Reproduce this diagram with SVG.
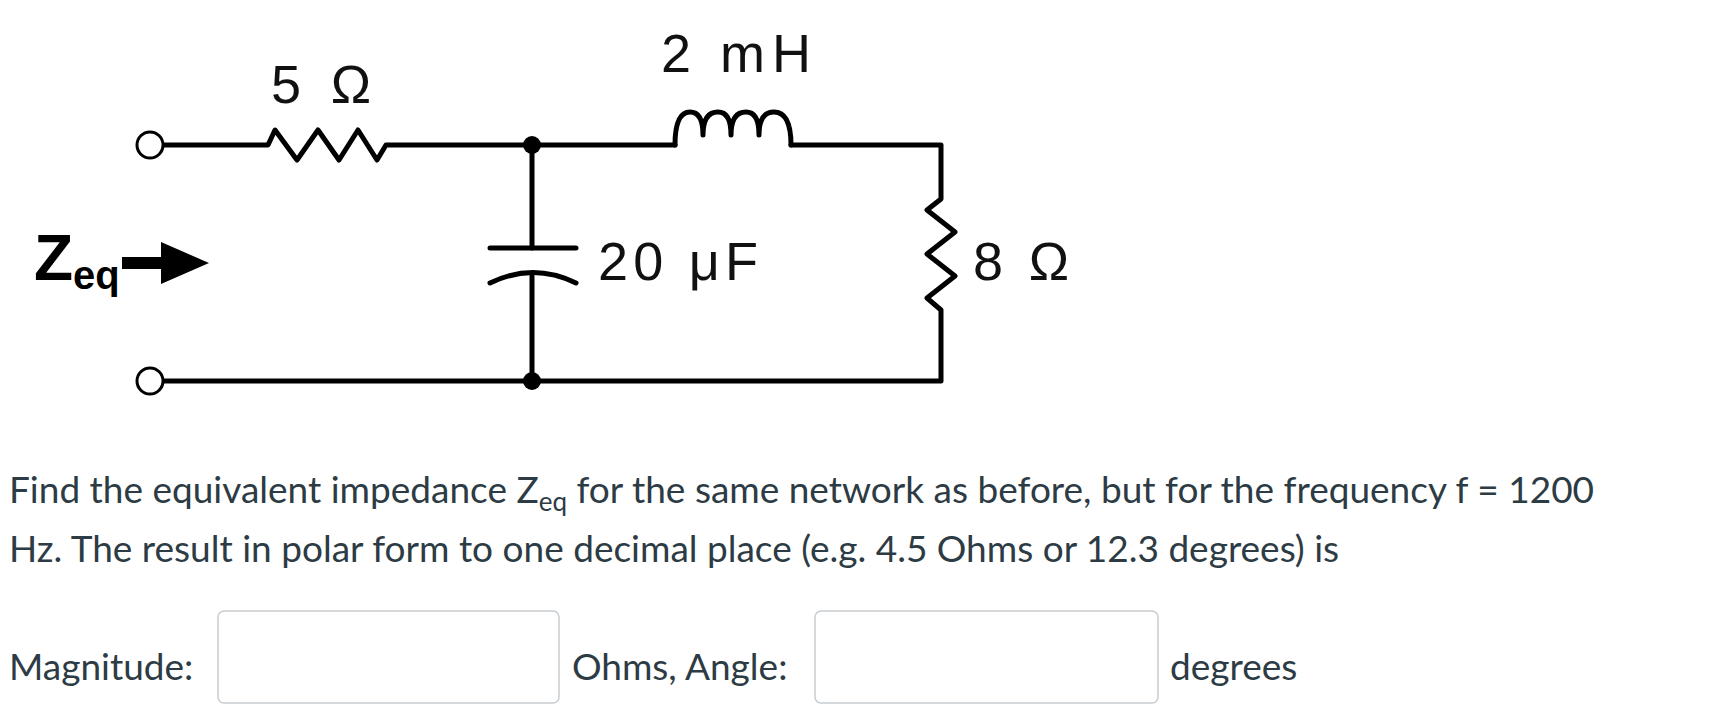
<svg xmlns="http://www.w3.org/2000/svg" width="1735" height="720" viewBox="0 0 1735 720">
<style>
.w{fill:none;stroke:#000;stroke-width:5;stroke-linecap:round;stroke-linejoin:round}
.lb{font-family:"Liberation Sans Narrow","Liberation Sans",sans-serif;font-size:54px;fill:#111}
.t{font-family:Lato,"Liberation Sans",sans-serif;font-size:37px;fill:#2d3b45}
.box{fill:#fff;stroke:#c7cdd1;stroke-width:1.5}
</style>
<rect width="1735" height="720" fill="#fff"/>
<g id="connectors">
<path class="w" d="M163 145H268L275 130L297 160L318 130L339 160L358 130L377 160L386 145H675"/>
<path class="w" d="M791 145H941V199L927 210L955 232L927 254L955 276L927 298L941 310V381H532"/>
<path class="w" d="M163 381H532"/>
<path class="w" d="M532 145V248M532 276V381"/>
<path class="w" d="M490 248H576"/>
<path class="w" d="M490 283Q533 262 576 283"/>
<path class="w" d="M675 145Q675 112 690 112Q703 112 703 135Q703 112 718 112Q731 112 731 135Q731 112 746 112Q759 112 759 135Q759 112 774 112Q791 112 791 145"/>
</g>
<g id="terminals">
<circle cx="150" cy="145" r="13" fill="#fff" stroke="#000" stroke-width="3"/>
<circle cx="150" cy="381" r="13" fill="#fff" stroke="#000" stroke-width="3"/>
<circle cx="532" cy="145" r="9"/>
<circle cx="532" cy="381" r="9"/>
</g>
<g id="zeq">
<text x="34" y="280" font-family="Liberation Sans,sans-serif" font-weight="bold" font-size="64">Z</text>
<text x="73" y="289" font-family="Liberation Sans,sans-serif" font-weight="bold" font-size="40">eq</text>
<path d="M122 257H161V242L209 263L161 284V269H122Z"/>
</g>
<g id="labels">
<text class="lb" x="271" y="103" textLength="100">5 Ω</text>
<text class="lb" x="661" y="72" textLength="150">2 mH</text>
<text class="lb" x="598" y="280" textLength="160">20 μF</text>
<text class="lb" x="973" y="280" textLength="96">8 Ω</text>
</g>
<g id="question">
<text class="t" x="9" y="503">Find the equivalent impedance Z<tspan font-size="26" dy="8">eq</tspan><tspan dy="-8"> for the same network as before, but for the frequency f = 1200</tspan></text>
<text class="t" x="9" y="562">Hz. The result in polar form to one decimal place (e.g. 4.5 Ohms or 12.3 degrees) is</text>
<text class="t" x="9" y="680">Magnitude:</text>
<rect class="box" x="218" y="611" width="341" height="92" rx="6"/>
<text class="t" x="572" y="680">Ohms, Angle:</text>
<rect class="box" x="815" y="611" width="343" height="92" rx="6"/>
<text class="t" x="1170" y="680">degrees</text>
</g>
</svg>
